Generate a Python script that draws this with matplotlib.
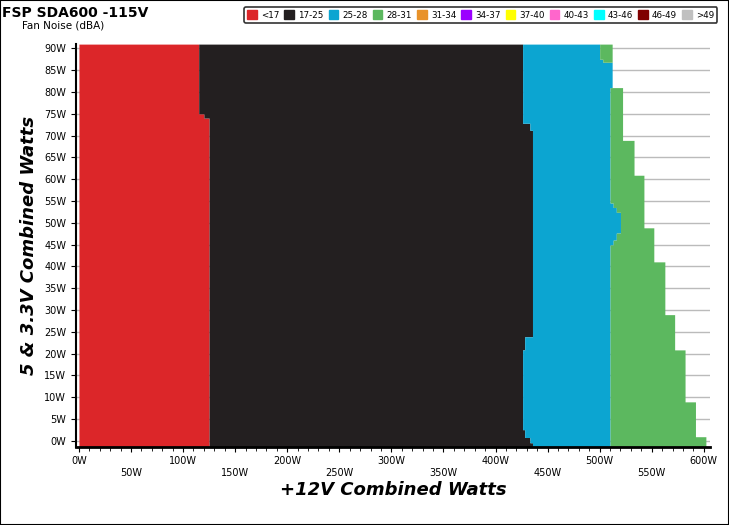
import numpy as np
import matplotlib
matplotlib.use("Agg")
import matplotlib.pyplot as plt
from matplotlib.patches import Patch

# step boundaries: value applies from y_break[i] up to y_break[i+1]
y_grid_top = 91.0
y_grid_bot = -1.4

red_y = [-1.4, 74.0, 75.0]
red_x = [125, 120, 115]

black_y = [-1.4, -0.5, 0.7, 2.5, 20.8, 23.8, 71.2, 72.8]
black_x = [435.5, 433, 428, 426, 428, 435.5, 433, 426]

blue_y = [-1.4, 44.9, 46.0, 47.6, 52.4, 53.5, 54.5, 81.0, 86.8, 87.5]
blue_x = [510, 513, 516, 520, 516, 513, 510, 512, 503, 500]

green_y = [-1.4, 0.9, 8.9, 20.8, 28.9, 41.0, 48.8, 60.9, 68.9, 81.0, 86.8]
green_x = [602, 592, 582, 572, 562.6, 552, 542.5, 533, 522, 512, 512]

colors = ["#DC2629", "#231F20", "#0CA5D1", "#5CB85F", "#E8922A", "#9B00FF",
          "#FFFF00", "#FF66CC", "#00FFFF", "#800000", "#C0C0C0"]
labels = ["<17", "17-25", "25-28", "28-31", "31-34", "34-37", "37-40",
          "40-43", "43-46", "46-49", ">49"]


def step(ys, xs, yy):
    idx = np.searchsorted(ys, yy, side="right") - 1
    return np.array(xs)[np.clip(idx, 0, len(xs) - 1)]


yy = np.linspace(y_grid_bot, y_grid_top, 2000)
r = step(red_y, red_x, yy)
k = step(black_y, black_x, yy)
b = step(blue_y, blue_x, yy)
g = step(green_y, green_x, yy)

fig = plt.figure(figsize=(7.29, 5.25), dpi=100)
ax = fig.add_axes([0.104, 0.149, 0.870, 0.767])

for yv in np.arange(0, 91, 5):
    ax.axhline(yv, color="#BBBBBB", lw=1, zorder=0)

ax.fill_betweenx(yy, 0, r, color=colors[0], lw=0, step="post")
ax.fill_betweenx(yy, r, k, color=colors[1], lw=0, step="post")
ax.fill_betweenx(yy, k, b, color=colors[2], lw=0, step="post")
ax.fill_betweenx(yy, b, g, color=colors[3], lw=0, step="post")

ax.set_xlim(-3, 606)
ax.set_ylim(y_grid_bot, y_grid_top)
for s in ["top", "right"]:
    ax.spines[s].set_visible(False)
ax.spines["left"].set_linewidth(1.5)
ax.spines["bottom"].set_linewidth(2)

ax.set_yticks(np.arange(0, 91, 5))
ax.set_yticklabels([f"{v}W" for v in range(0, 91, 5)], fontsize=7)
xt = np.arange(0, 601, 50)
ax.set_xticks(xt)
ax.set_xticklabels([f"{v}W" if i % 2 == 0 else f"\n{v}W" for i, v in enumerate(xt)], fontsize=7)
ax.set_xticks(np.arange(0, 601, 10), minor=True)
ax.tick_params(axis="x", which="minor", length=3)

ax.set_xlabel("+12V Combined Watts", fontsize=13, fontweight="bold", style="italic", labelpad=2)
ax.set_ylabel("5 & 3.3V Combined Watts", fontsize=13, fontweight="bold", style="italic")

fig.text(0.003, 0.975, "FSP SDA600 -115V", fontsize=10, fontweight="bold", va="center")
fig.text(0.03, 0.952, "Fan Noise (dBA)", fontsize=7.5, va="center")

handles = [Patch(color=c, label=l) for c, l in zip(colors, labels)]
leg = fig.legend(handles=handles, ncol=11, loc="upper right", bbox_to_anchor=(0.99, 0.995),
                 fontsize=6.3, handlelength=1.1, handleheight=1.2, handletextpad=0.5,
                 columnspacing=0.55, borderpad=0.35, frameon=True, fancybox=True)
leg.get_frame().set_edgecolor("black")
leg.get_frame().set_linewidth(1.2)

fig.patches.append(plt.Rectangle((0, 0), 1, 1, transform=fig.transFigure,
                                 fill=False, edgecolor="black", lw=1.5))
fig.savefig("out.png", dpi=100)
